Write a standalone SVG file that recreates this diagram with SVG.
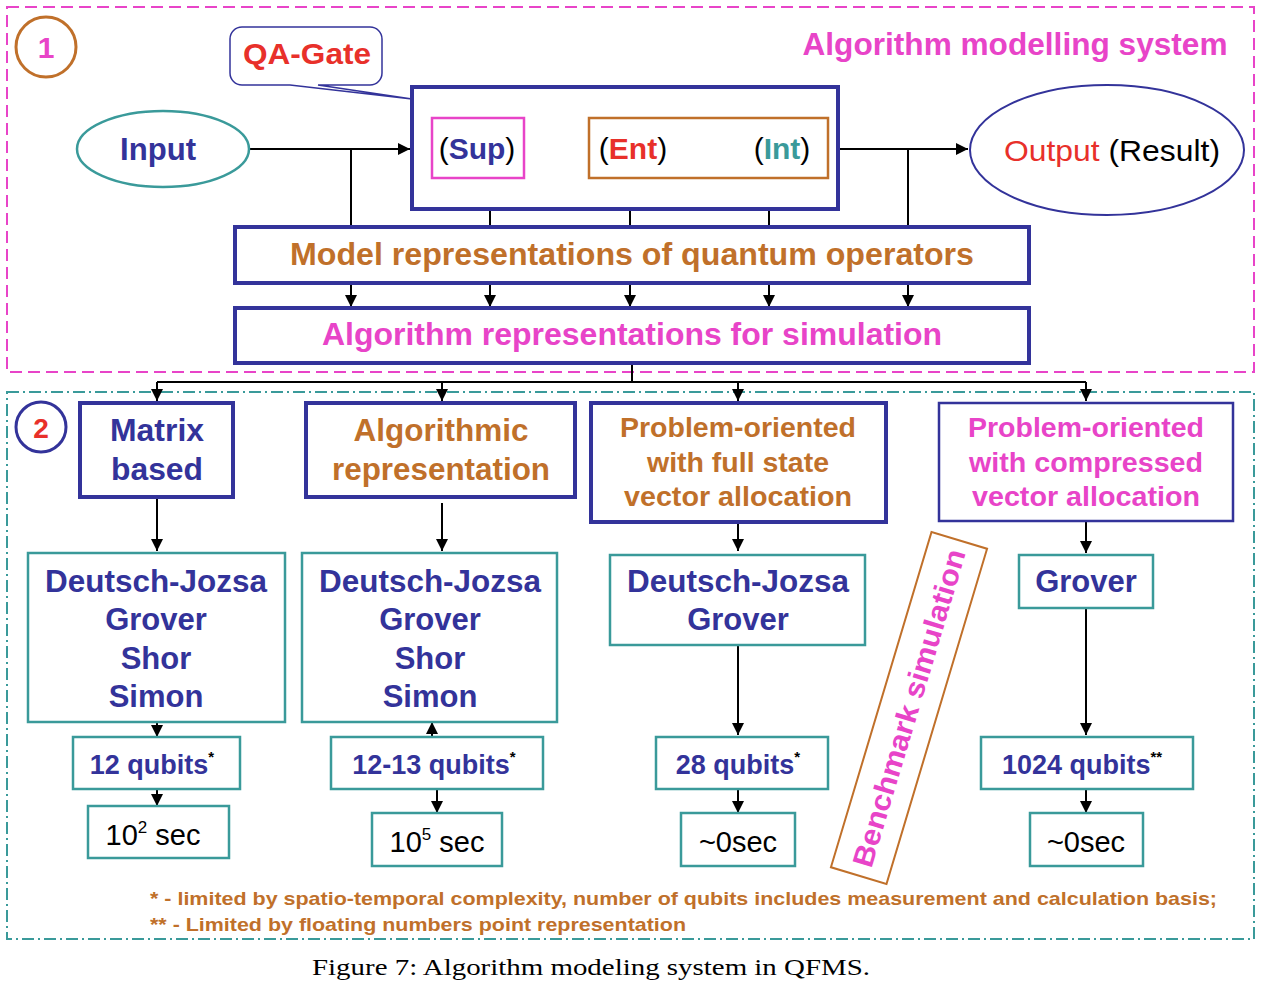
<svg xmlns="http://www.w3.org/2000/svg" width="1266" height="996" viewBox="0 0 1266 996">
<style>
text{font-family:"Liberation Sans",Arial,sans-serif;font-weight:bold;text-anchor:middle}
.b{fill:#33339a}.o{fill:#c0702a}.m{fill:#e844c8}.r{fill:#e8302a}.t{fill:#3a9a9a}.k{fill:#000}
.nb{fill:#fff;stroke:#33339a;stroke-width:4}
.nt{fill:#fff;stroke:#3a9a9a;stroke-width:2.5}
.c{stroke:#000;stroke-width:2;fill:none}
.ar{stroke:#000;stroke-width:2;fill:none;marker-end:url(#a)}
</style>
<defs><marker id="a" viewBox="0 0 10 10" refX="10" refY="5" markerWidth="6" markerHeight="6" orient="auto"><path d="M0,0L10,5L0,10z" fill="#000"/></marker></defs>
<rect width="1266" height="996" fill="#fff"/>
<rect x="7" y="7" width="1247" height="365" fill="none" stroke="#e844c8" stroke-width="2" stroke-dasharray="12,6"/>
<rect x="7" y="392" width="1247" height="547" fill="none" stroke="#3a9a9a" stroke-width="2" stroke-dasharray="12,4,2,4"/>
<g id="c1"><circle cx="46" cy="47" r="30" fill="#fff" stroke="#c0702a" stroke-width="3"/><text x="46" y="58" font-size="30" class="m">1</text></g>
<g id="c2"><circle cx="41" cy="427" r="25" fill="#fff" stroke="#33339a" stroke-width="3"/><text x="41" y="438" font-size="28" class="r">2</text></g>
<text x="1015" y="55" font-size="32" class="m" textLength="425" lengthAdjust="spacingAndGlyphs">Algorithm  modelling system</text>
<g id="connectors">
<path class="ar" d="M250,149H410"/>
<path class="ar" d="M838,149H968"/>
<path class="c" d="M351,149V227M490,209V227M630,209V227M769,209V227M908,149V227"/>
<path class="ar" d="M351,283V307"/><path class="ar" d="M490,283V307"/><path class="ar" d="M630,283V307"/><path class="ar" d="M769,283V307"/><path class="ar" d="M908,283V307"/>
<path class="c" d="M632,363V382M157,382H1086" stroke-width="3"/>
<path class="ar" d="M157,382V401"/><path class="ar" d="M442,382V401"/><path class="ar" d="M738,382V401"/><path class="ar" d="M1086,382V401"/>
<path class="ar" d="M157,497V551"/><path class="ar" d="M442,503V551"/><path class="ar" d="M738,522V551"/><path class="ar" d="M1086,521V553"/>
<path class="ar" d="M157,722V737"/><path class="ar" d="M738,645V735"/><path class="ar" d="M1086,608V735"/>
<path class="ar" d="M432,737V722"/>
<path class="ar" d="M157,789V806"/><path class="ar" d="M437,789V813"/><path class="ar" d="M738,789V813"/><path class="ar" d="M1086,789V813"/>
</g>
<g id="qagate"><path d="M242,27H370A12,12 0 0 1 382,39V73A12,12 0 0 1 370,85H318L412,99L290,85H242A12,12 0 0 1 230,73V39A12,12 0 0 1 242,27Z" fill="#fff" stroke="#33339a" stroke-width="1.5"/><text x="307" y="64" font-size="30" class="r" textLength="128" lengthAdjust="spacingAndGlyphs">QA-Gate</text></g>
<g id="input"><ellipse cx="163" cy="149" rx="86" ry="38" fill="#fff" stroke="#3a9a9a" stroke-width="2.5"/><text x="158" y="160" font-size="32" class="b" textLength="76" lengthAdjust="spacingAndGlyphs">Input</text></g>
<g id="output"><ellipse cx="1107" cy="150" rx="137" ry="65" fill="#fff" stroke="#33339a" stroke-width="2"/><text x="1112" y="161" font-size="30" style="font-weight:normal" textLength="216" lengthAdjust="spacingAndGlyphs"><tspan class="r">Output</tspan> (Result)</text></g>
<g id="gate"><rect x="412" y="87" width="426" height="122" class="nb"/>
<rect x="432" y="118" width="92" height="60" fill="none" stroke="#e844c8" stroke-width="2.5"/>
<rect x="589" y="118" width="239" height="60" fill="none" stroke="#c0702a" stroke-width="2.5"/>
<text x="477" y="159" font-size="30"><tspan style="font-weight:normal">(</tspan><tspan class="b">Sup</tspan><tspan style="font-weight:normal">)</tspan></text>
<text x="633" y="159" font-size="30"><tspan style="font-weight:normal">(</tspan><tspan class="r">Ent</tspan><tspan style="font-weight:normal">)</tspan></text>
<text x="782" y="159" font-size="30"><tspan style="font-weight:normal">(</tspan><tspan class="t">Int</tspan><tspan style="font-weight:normal">)</tspan></text></g>
<g id="model"><rect x="235" y="227" width="794" height="56" class="nb"/><text x="632" y="265" font-size="31" class="o" textLength="684" lengthAdjust="spacingAndGlyphs">Model representations of quantum operators</text></g>
<g id="algo"><rect x="235" y="308" width="794" height="55" class="nb"/><text x="632" y="345" font-size="31" class="m" textLength="620" lengthAdjust="spacingAndGlyphs">Algorithm  representations for simulation</text></g>
<g id="matrix"><rect x="80" y="403" width="153" height="94" class="nb"/><text x="157" y="441" font-size="31" class="b" textLength="94" lengthAdjust="spacingAndGlyphs">Matrix</text><text x="157" y="480" font-size="31" class="b" textLength="92" lengthAdjust="spacingAndGlyphs">based</text></g>
<g id="algrep"><rect x="306" y="403" width="269" height="94" class="nb"/><text x="441" y="441" font-size="31" class="o" textLength="175" lengthAdjust="spacingAndGlyphs">Algorithmic</text><text x="441" y="480" font-size="31" class="o" textLength="218" lengthAdjust="spacingAndGlyphs">representation</text></g>
<g id="pfull"><rect x="591" y="403" width="295" height="119" class="nb"/><text x="738" y="437" font-size="28" class="o" textLength="236" lengthAdjust="spacingAndGlyphs">Problem-oriented</text><text x="738" y="472" font-size="28" class="o" textLength="182" lengthAdjust="spacingAndGlyphs">with full state</text><text x="738" y="506" font-size="28" class="o" textLength="228" lengthAdjust="spacingAndGlyphs">vector allocation</text></g>
<g id="pcomp"><rect x="939" y="403" width="294" height="118" fill="#fff" stroke="#33339a" stroke-width="2.5"/><text x="1086" y="437" font-size="28" class="m" textLength="236" lengthAdjust="spacingAndGlyphs">Problem-oriented</text><text x="1086" y="472" font-size="28" class="m" textLength="234" lengthAdjust="spacingAndGlyphs">with compressed</text><text x="1086" y="506" font-size="28" class="m" textLength="228" lengthAdjust="spacingAndGlyphs">vector allocation</text></g>
<g id="list1"><rect x="28" y="553" width="257" height="169" class="nt"/><text x="156" y="592" font-size="31" class="b" textLength="222" lengthAdjust="spacingAndGlyphs">Deutsch-Jozsa</text><text x="156" y="630" font-size="31" class="b">Grover</text><text x="156" y="669" font-size="31" class="b">Shor</text><text x="156" y="707" font-size="31" class="b">Simon</text></g>
<g id="list2"><rect x="302" y="553" width="255" height="169" class="nt"/><text x="430" y="592" font-size="31" class="b" textLength="222" lengthAdjust="spacingAndGlyphs">Deutsch-Jozsa</text><text x="430" y="630" font-size="31" class="b">Grover</text><text x="430" y="669" font-size="31" class="b">Shor</text><text x="430" y="707" font-size="31" class="b">Simon</text></g>
<g id="list3"><rect x="610" y="555" width="255" height="90" class="nt"/><text x="738" y="592" font-size="31" class="b" textLength="222" lengthAdjust="spacingAndGlyphs">Deutsch-Jozsa</text><text x="738" y="630" font-size="31" class="b">Grover</text></g>
<g id="list4"><rect x="1019" y="555" width="134" height="53" class="nt"/><text x="1086" y="592" font-size="31" class="b">Grover</text></g>
<g id="q1"><rect x="73" y="737" width="167" height="52" class="nt"/><text x="152" y="774" font-size="27" class="b">12 qubits<tspan font-size="15" dy="-12" class="k">*</tspan></text></g>
<g id="q2"><rect x="331" y="737" width="212" height="52" class="nt"/><text x="434" y="774" font-size="27" class="b">12-13 qubits<tspan font-size="15" dy="-12" class="k">*</tspan></text></g>
<g id="q3"><rect x="656" y="737" width="172" height="52" class="nt"/><text x="738" y="774" font-size="27" class="b">28 qubits<tspan font-size="15" dy="-12" class="k">*</tspan></text></g>
<g id="q4"><rect x="981" y="737" width="212" height="52" class="nt"/><text x="1082" y="774" font-size="27" class="b">1024 qubits<tspan font-size="15" dy="-12" class="k">**</tspan></text></g>
<g id="t1"><rect x="88" y="806" width="141" height="52" class="nt"/><text x="153" y="845" font-size="29" class="k" style="font-weight:normal">10<tspan font-size="17" dy="-12">2</tspan><tspan dy="12"> sec</tspan></text></g>
<g id="t2"><rect x="372" y="813" width="130" height="53" class="nt"/><text x="437" y="852" font-size="29" class="k" style="font-weight:normal">10<tspan font-size="17" dy="-12">5</tspan><tspan dy="12"> sec</tspan></text></g>
<g id="t3"><rect x="681" y="813" width="114" height="53" class="nt"/><text x="738" y="852" font-size="29" class="k" style="font-weight:normal">~0sec</text></g>
<g id="t4"><rect x="1030" y="813" width="113" height="53" class="nt"/><text x="1086" y="852" font-size="29" class="k" style="font-weight:normal">~0sec</text></g>
<g id="bench" transform="translate(909,708) rotate(-73.3)"><rect x="-175" y="-29" width="350" height="58" fill="#fff" stroke="#c0702a" stroke-width="2"/><text x="0" y="10" font-size="29" class="m" textLength="330" lengthAdjust="spacingAndGlyphs">Benchmark simulation</text></g>
<text x="150" y="905" font-size="19" class="o" style="text-anchor:start" textLength="1067" lengthAdjust="spacingAndGlyphs">* - limited by spatio-temporal complexity, number of qubits includes measurement and calculation basis;</text>
<text x="150" y="931" font-size="19" class="o" style="text-anchor:start" textLength="536" lengthAdjust="spacingAndGlyphs">** - Limited by floating numbers point representation</text>
<text x="591" y="975" font-size="23" style="font-family:'Liberation Serif',serif;font-weight:normal" textLength="558" lengthAdjust="spacingAndGlyphs">Figure 7: Algorithm modeling system in QFMS.</text>
</svg>
